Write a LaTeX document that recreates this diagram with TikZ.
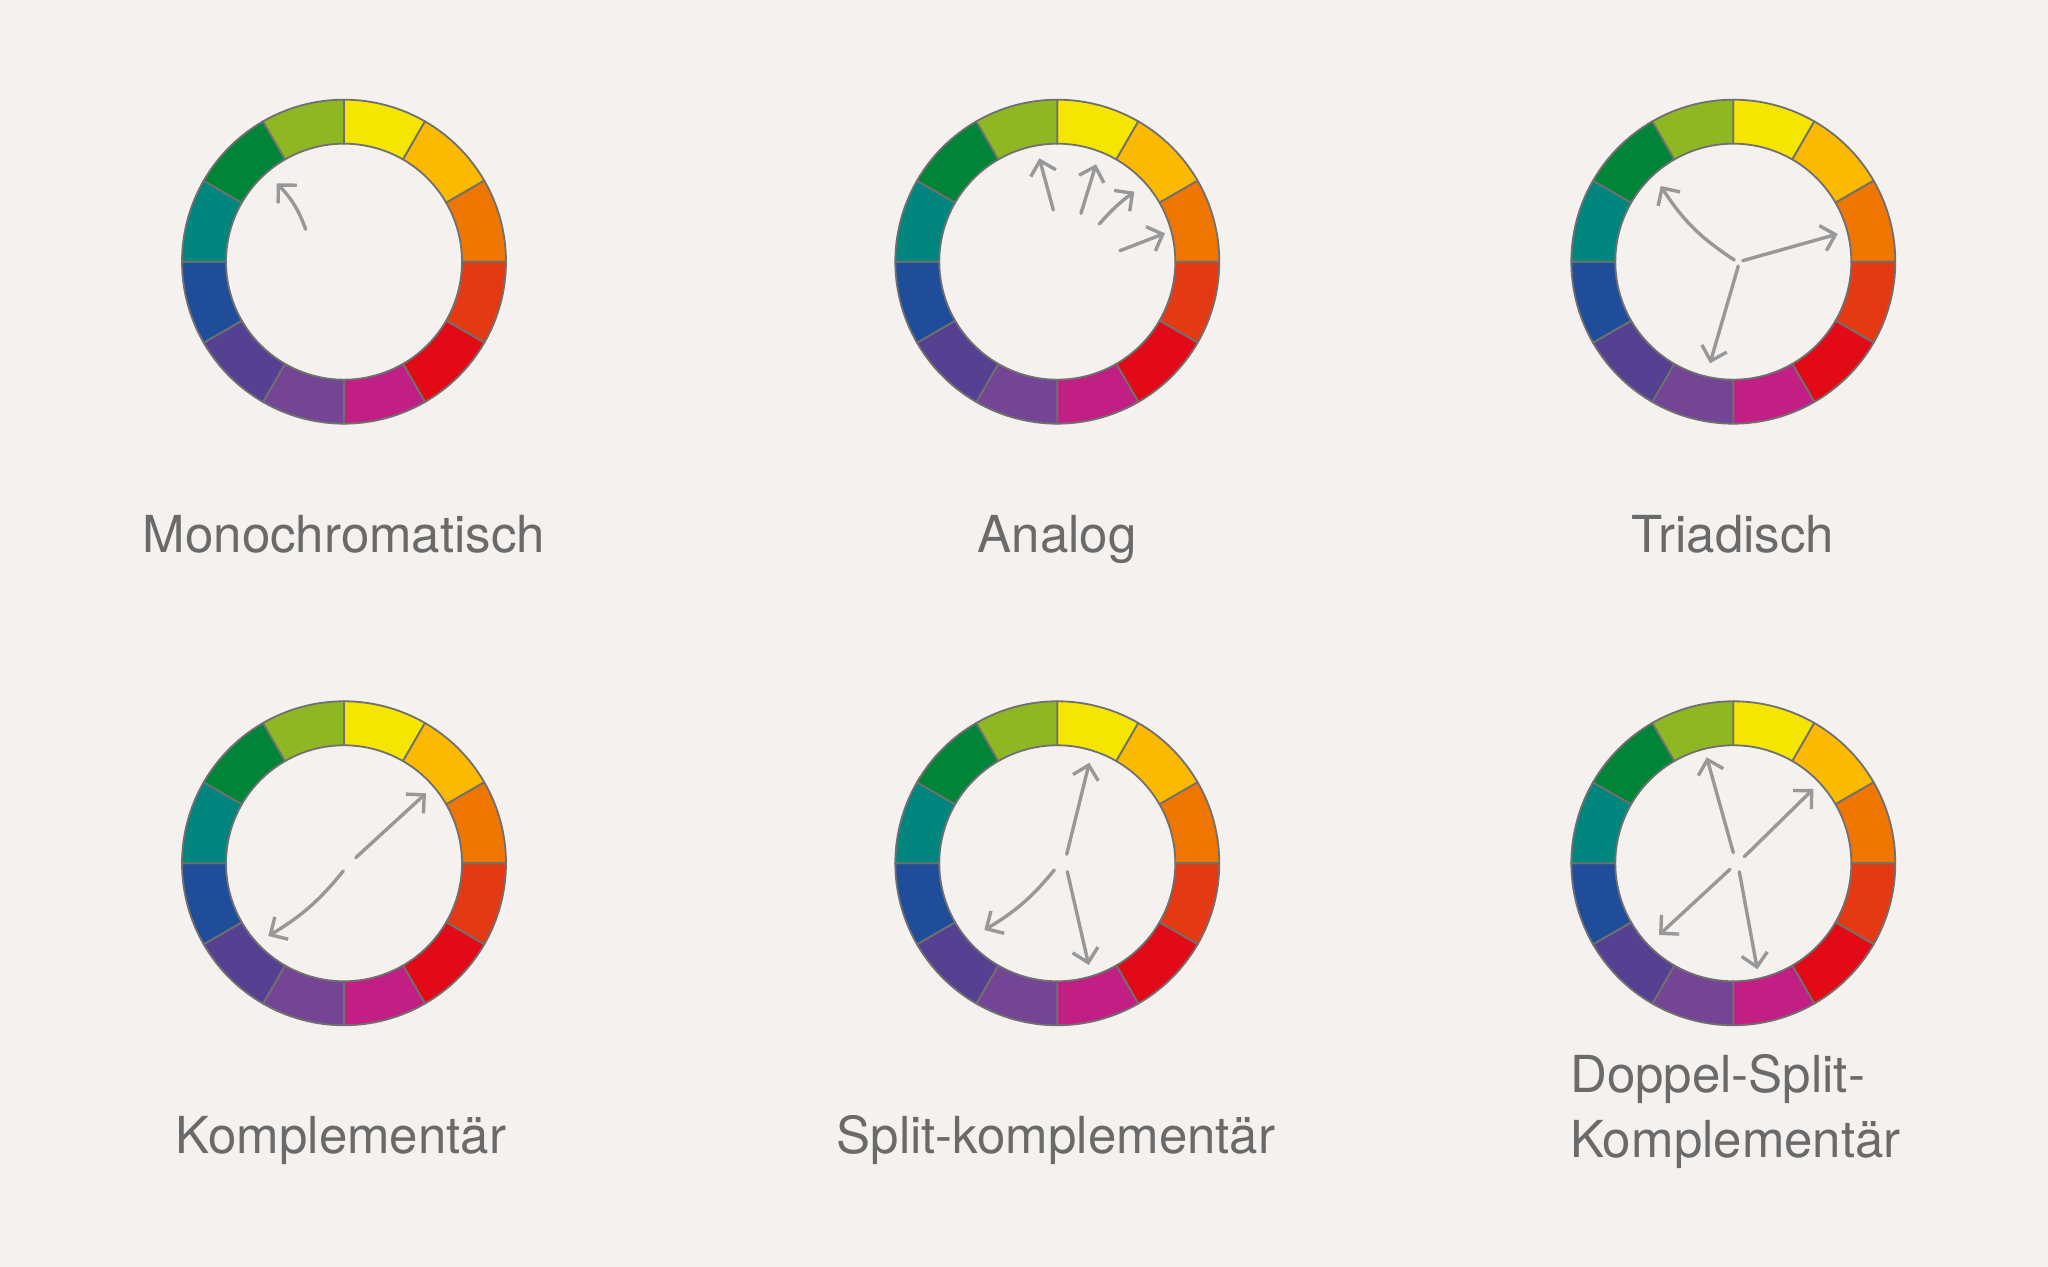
\documentclass[tikz,border=0pt]{standalone}
\usepackage{fontspec}
\setmainfont{TeX Gyre Heros}
\usetikzlibrary{arrows.meta}
\definecolor{bg}{HTML}{F4F1EE}
\definecolor{rim}{HTML}{707070}
\definecolor{arr}{HTML}{989898}
\definecolor{txt}{HTML}{6A6A6A}
\definecolor{ca}{HTML}{F4E600}
\definecolor{cb}{HTML}{FBBA00}
\definecolor{cc}{HTML}{EE7601}
\definecolor{cd}{HTML}{E43A14}
\definecolor{ce}{HTML}{E20A16}
\definecolor{cf}{HTML}{C21F85}
\definecolor{cg}{HTML}{734594}
\definecolor{ch}{HTML}{554091}
\definecolor{ci}{HTML}{1F4D9A}
\definecolor{cj}{HTML}{00857F}
\definecolor{ck}{HTML}{008538}
\definecolor{cl}{HTML}{8FB724}
\newcommand\mywheel[3]{%
  \begin{scope}[shift={(#2,#3)}]
    \coordinate (#1) at (0,0);
    \foreach \c [count=\i from 0] in {ca,cb,cc,cd,ce,cf,cg,ch,ci,cj,ck,cl} {
      \pgfmathsetmacro\aa{90-30*\i}
      \pgfmathsetmacro\ab{60-30*\i}
      \filldraw[seg, fill=\c] (\aa:162) arc[start angle=\aa, end angle=\ab, radius=162]
        -- (\ab:118) arc[start angle=\ab, end angle=\aa, radius=118] -- cycle;
    }
  \end{scope}}
\begin{document}
\begin{tikzpicture}[x=0.5pt,y=0.5pt,
  seg/.style={draw=rim, line width=0.9pt, line join=round},
  harrow/.style={draw=arr, line width=1.7pt, line cap=round, -{Straight Barb[length=6.5pt,width=13pt]}},
  lbl/.style={text=txt, font=\fontsize{25.5}{32.5}\selectfont, inner sep=0pt}]
\fill[bg] (0,0) rectangle (2048,1267);
\useasboundingbox (0,0) rectangle (2048,1267);

% wheels
\mywheel{w1}{344}{1005.3}
\mywheel{w2}{1057.3}{1005.3}
\mywheel{w3}{1733.3}{1005.3}
\mywheel{w4}{344}{403.7}
\mywheel{w5}{1057.3}{403.7}
\mywheel{w6}{1733.3}{403.7}

% Monochromatisch
\begin{scope}[shift={(344,1005.3)}]
  \coordinate (m1s) at (-38.3,32.4); \coordinate (m1e) at (-67.3,78.4);
\end{scope}
\draw[harrow] (m1s) to[bend right=12] (m1e);

% Analog
\begin{scope}[shift={(1057.3,1005.3)}]
  \coordinate (a1s) at (-4,51.7);    \coordinate (a1e) at (-18,103.4);
  \coordinate (a2s) at (23.7,48.4);  \coordinate (a2e) at (38.7,97.4);
  \coordinate (a3s) at (42,37.7);    \coordinate (a3e) at (77,70);
  \coordinate (a4s) at (62.7,11);    \coordinate (a4e) at (107.7,28.4);
\end{scope}
\draw[harrow] (a1s) -- (a1e);
\draw[harrow] (a2s) -- (a2e);
\draw[harrow] (a3s) to[bend left=6] (a3e);
\draw[harrow] (a4s) -- (a4e);

% Triadisch
\begin{scope}[shift={(1733.3,1005.3)}]
  \coordinate (t1s) at (1,1.7);      \coordinate (t1e) at (-72.6,75.7);
  \coordinate (t2s) at (9.4,1);      \coordinate (t2e) at (104.4,27.7);
  \coordinate (t3s) at (5,-4.3);     \coordinate (t3e) at (-23.3,-101.6);
\end{scope}
\draw[harrow] (t1s) to[bend left=12] (t1e);
\draw[harrow] (t2s) -- (t2e);
\draw[harrow] (t3s) -- (t3e);

% Komplementaer
\begin{scope}[shift={(344,403.7)}]
  \coordinate (k1s) at (11.7,5.6);   \coordinate (k1e) at (82,70);
  \coordinate (k2s) at (-0.7,-7.7);  \coordinate (k2e) at (-75.7,-72.7);
\end{scope}
\draw[harrow] (k1s) -- (k1e);
\draw[harrow] (k2s) to[bend left=10] (k2e);

% Split-komplementaer
\begin{scope}[shift={(1057.3,403.7)}]
  \coordinate (s1s) at (9.4,9);      \coordinate (s1e) at (32,100.6);
  \coordinate (s2s) at (-3,-6.7);    \coordinate (s2e) at (-73,-66.7);
  \coordinate (s3s) at (10,-8.4);    \coordinate (s3e) at (31.4,-101.7);
\end{scope}
\draw[harrow] (s1s) -- (s1e);
\draw[harrow] (s2s) to[bend left=10] (s2e);
\draw[harrow] (s3s) -- (s3e);

% Doppel-Split-Komplementaer
\begin{scope}[shift={(1733.3,403.7)}]
  \coordinate (d1s) at (0,10.6);     \coordinate (d1e) at (-26.6,106);
  \coordinate (d2s) at (11,6.6);     \coordinate (d2e) at (80,74.3);
  \coordinate (d3s) at (-3.3,-6);    \coordinate (d3e) at (-74.3,-71.7);
  \coordinate (d4s) at (6,-8.4);     \coordinate (d4e) at (24,-106);
\end{scope}
\draw[harrow] (d1s) -- (d1e);
\draw[harrow] (d2s) -- (d2e);
\draw[harrow] (d3s) -- (d3e);
\draw[harrow] (d4s) -- (d4e);

% labels
\node[lbl, anchor=base] (l1) at (344,714.7) {Monochromatisch};
\node[lbl, anchor=base] (l2) at (1057,714.7) {Analog};
\node[lbl, anchor=base] (l3) at (1733,714.7) {Triadisch};
\node[lbl, anchor=base] (l4) at (341,113) {Komplementär};
\node[lbl, anchor=base] (l5) at (1056,113) {Split-komplementär};
\node[lbl, anchor=base west, align=left] (l6) at (1570,109) {Doppel-Split-\\Komplementär};
\end{tikzpicture}
\end{document}
